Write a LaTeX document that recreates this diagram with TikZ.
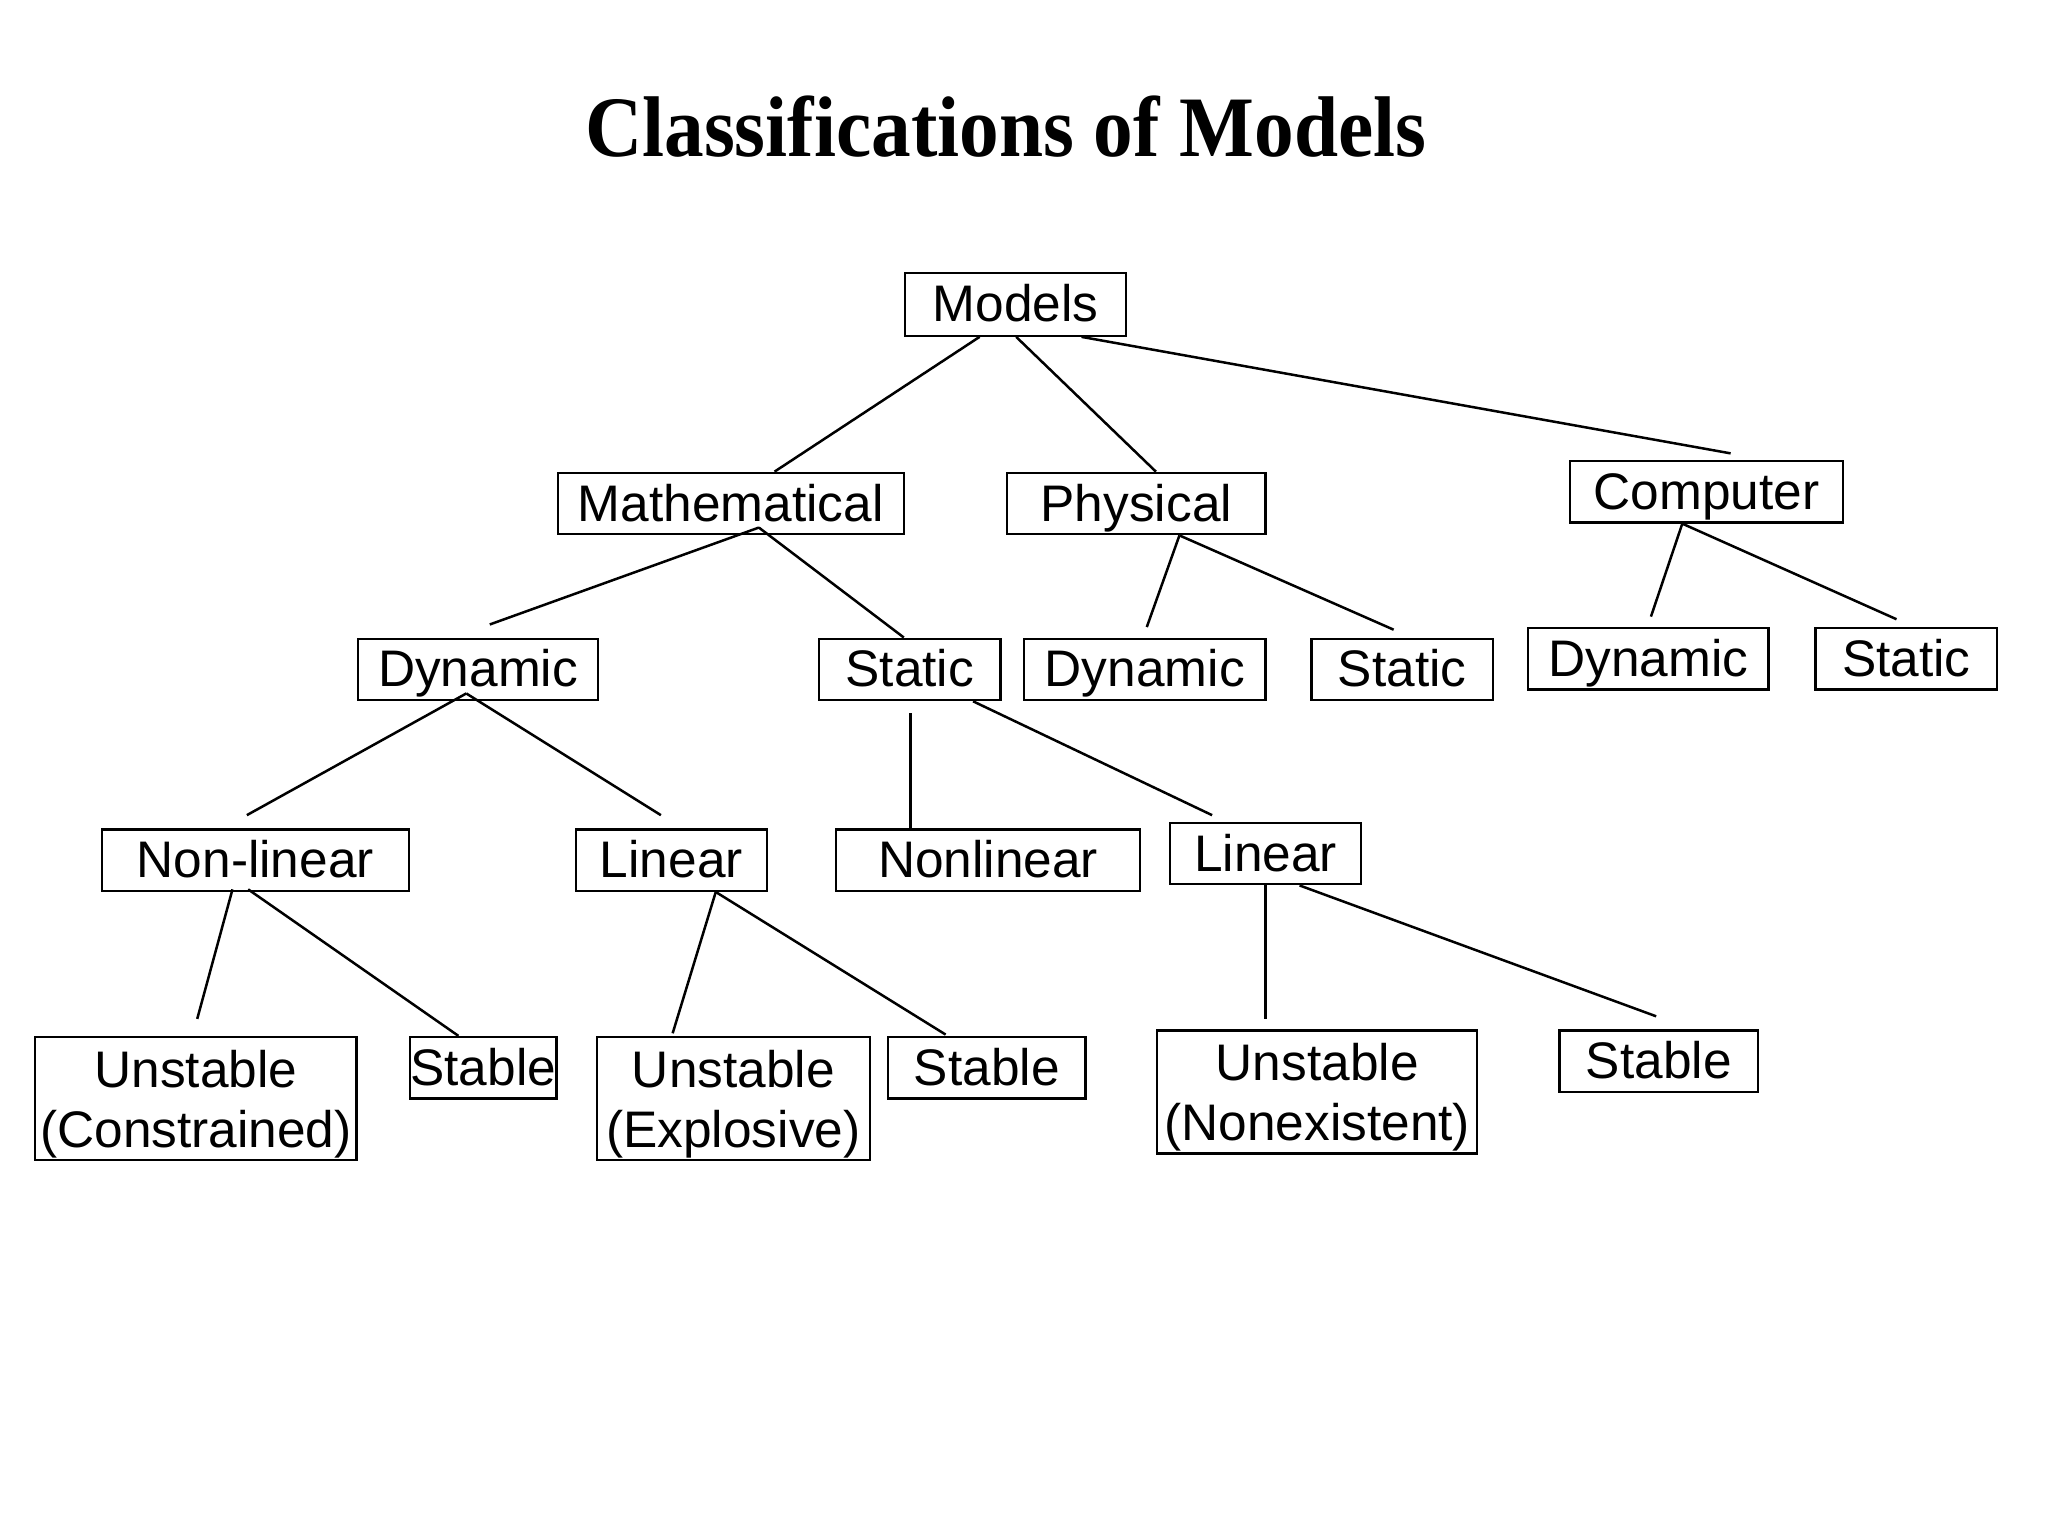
\documentclass[tikz,border=0pt]{standalone}
\usepackage{fontspec}
\usepackage{graphicx}
\setmainfont{Liberation Sans}
\newfontfamily\titlefont{Liberation Serif}
\usetikzlibrary{calc}
\newcommand{\topstrut}{\rule{0pt}{17.3pt}}
\begin{document}
\begin{tikzpicture}[x=0.47pt,y=-0.47pt,
  box/.style 2 args={draw, line width=0.85pt, inner sep=0pt, minimum width=#1*0.47pt, minimum height=#2*0.47pt,
    font=\fontsize{18.5}{21.6}\selectfont, text height=12.6pt, text depth=0pt},
  box2/.style 2 args={draw, line width=0.85pt, inner sep=0pt, minimum width=#1*0.47pt, minimum height=#2*0.47pt,
    font=\fontsize{18.5}{21.6}\selectfont, align=center},
  link/.style={line width=0.9pt}]
\useasboundingbox (0,0) rectangle (1568,1176);
\node[anchor=base, inner sep=0pt] (title) at (770,120)
  {\scalebox{0.92}[1]{\titlefont\bfseries\fontsize{31}{31}\selectfont Classifications of Models}};

\node[box={169}{48}] (models) at (777.5,233) {Models};
\node[box={265}{47}] (math) at (559.5,385.5) {Mathematical};
\node[box={198}{47}] (phys) at (870,385.5) {Physical};
\node[box={209}{47}] (comp) at (1306.5,376.5) {Computer};
\node[box={184}{47}] (mdyn) at (366,512.5) {Dynamic};
\node[box={139}{47}] (mstat) at (696.5,512.5) {Static};
\node[box={185}{47}] (pdyn) at (876.5,512.5) {Dynamic};
\node[box={139}{47}] (pstat) at (1073.5,512.5) {Static};
\node[box={184}{47}] (cdyn) at (1262,504.5) {Dynamic};
\node[box={139}{47}] (cstat) at (1459.5,504.5) {Static};
\node[box={235}{47}] (nonlin) at (195.5,658.5) {Non-linear};
\node[box={146}{47}] (lin1) at (514,658.5) {Linear};
\node[box={233}{47}] (nonlin2) at (756.5,658.5) {Nonlinear};
\node[box={146}{47}] (lin2) at (969,653.5) {Linear};
\node[box2={246}{94}] (uc) at (150,841) {\topstrut Unstable\\(Constrained)};
\node[box={112}{47}] (s1) at (370,817.5) {Stable};
\node[box2={209}{94}] (ue) at (561.5,841) {\topstrut Unstable\\(Explosive)};
\node[box={151}{47}] (s2) at (755.5,817.5) {Stable};
\node[box2={245}{94}] (un) at (1008.5,836) {\topstrut Unstable\\(Nonexistent)};
\node[box={152}{47}] (s3) at (1270,812.5) {Stable};

\draw[link] ($(models.south)+(-27.5,0)$) -- ($(math.north)+(33.5,0)$);
\draw[link] ($(models.south)+(0.5,0)$) -- ($(phys.north)+(15,0)$);
\draw[link] ($(models.south)+(50.5,0)$) -- ($(comp.north)+(18.5,-5)$);
\draw[link] ($(math.south)+(21.5,-6)$) -- ($(mdyn.north)+(9,-10)$);
\draw[link] ($(math.south)+(21.5,-6)$) -- ($(mstat.north)+(-4.5,0)$);
\draw[link] ($(phys.south)+(33,0)$) -- ($(pdyn.north)+(1.5,-8)$);
\draw[link] ($(phys.south)+(33,0)$) -- ($(pstat.north)+(-6.5,-6)$);
\draw[link] ($(comp.south)+(-18.5,0)$) -- ($(cdyn.north)+(2,-8)$);
\draw[link] ($(comp.south)+(-18.5,0)$) -- ($(cstat.north)+(-7.5,-6)$);
\draw[link] ($(mdyn.south)+(-9,-6)$) -- ($(nonlin.north)+(-6.5,-10)$);
\draw[link] ($(mdyn.south)+(-9,-6)$) -- ($(lin1.north)+(-8,-10)$);
\draw[link] ($(mstat.south)+(0.5,9)$) -- ($(nonlin2.north)+(-59.5,2)$);
\draw[link] ($(mstat.south)+(48.5,0)$) -- ($(lin2.north)+(-41,-5)$);
\draw[link] ($(nonlin.south)+(-17.5,-2)$) -- ($(uc.north)+(1,-13)$);
\draw[link] ($(nonlin.south)+(-5.5,-2)$) -- ($(s1.north)+(-19,0)$);
\draw[link] ($(lin1.south)+(34,0)$) -- ($(ue.north)+(-46.5,-2)$);
\draw[link] ($(lin1.south)+(34,0)$) -- ($(s2.north)+(-31.5,-1)$);
\draw[link] (lin2.south) -- ($(un.north)+(-39.5,-8)$);
\draw[link] ($(lin2.south)+(26,0)$) -- ($(s3.north)+(-2,-10)$);
\end{tikzpicture}
\end{document}
